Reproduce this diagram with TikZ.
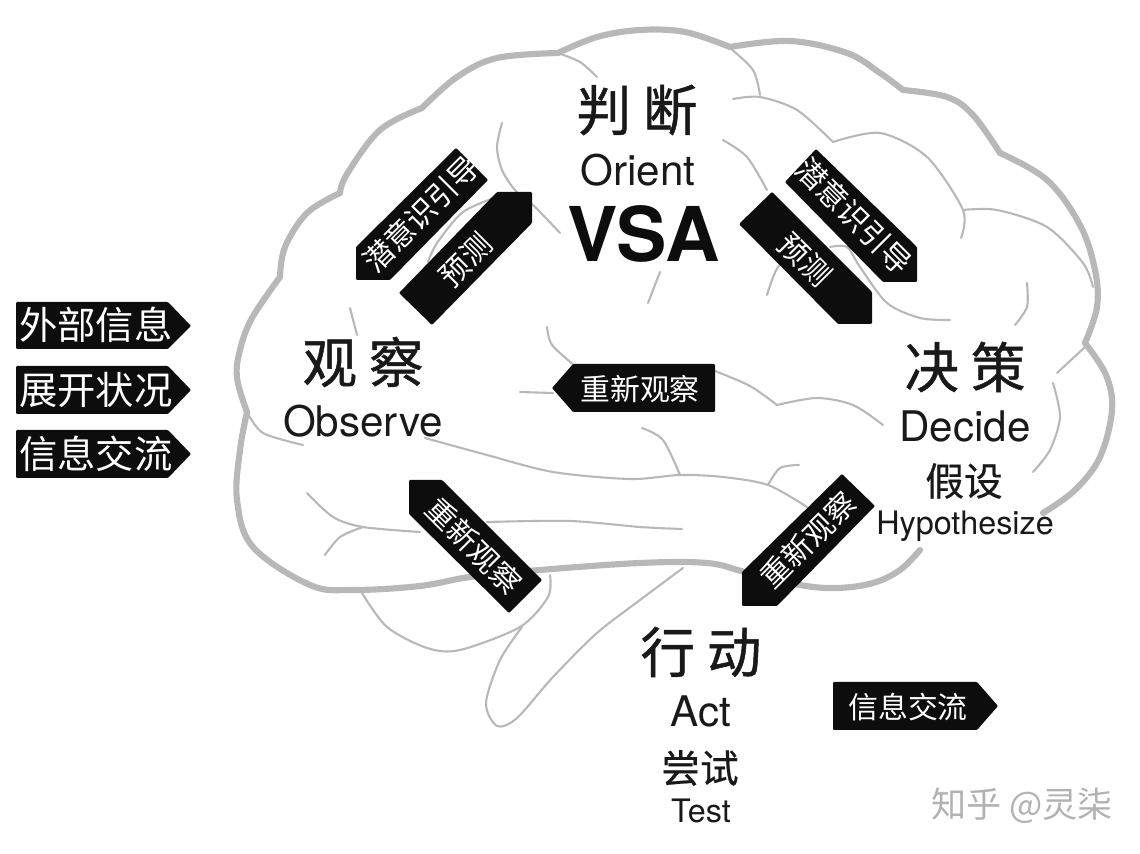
\documentclass[tikz,border=0pt]{standalone}
\usepackage{fontspec}
\setmainfont{TeX Gyre Heros}
\newfontfamily\cjk{Noto Sans CJK SC}
\newfontfamily\cjkhead[LetterSpace=22,FakeBold=0.9]{Noto Sans CJK SC}
\newfontfamily\cjkmid[FakeBold=0.5]{Noto Sans CJK SC}
\definecolor{brainline}{gray}{0.72}
\definecolor{tagblack}{gray}{0.05}
\tikzset{
    thickline/.style={draw=brainline, line width=3.5pt, line cap=round, line join=round},
    thinline/.style={draw=brainline, line width=1.2pt, line cap=round},
    tagshape/.style={fill=tagblack, rounded corners=0.6pt},
    tagtext/.style={text=white, inner sep=0pt, font=\cjk\fontsize{17}{17}\selectfont},
    sidetext/.style={text=white, inner sep=0pt, font=\cjk\fontsize{21.8}{21.8}\selectfont},
    headtext/.style={inner sep=0pt, text=black!90, font=\cjkhead\fontsize{31}{31}\selectfont},
    subtext/.style={inner sep=0pt, text=black!90, font=\cjkmid\fontsize{22}{22}\selectfont},
    englarge/.style={inner sep=0pt, text=black!90, font=\fontsize{24}{24}\selectfont},
    engsmall/.style={inner sep=0pt, text=black!90, font=\fontsize{18.4}{18.4}\selectfont},
}
\begin{document}
\begin{tikzpicture}[x=0.02cm, y=-0.02cm]
    \useasboundingbox (0,0) rectangle (1140,854);

    % Brain outline
    \draw[thickline] plot[smooth, tension=0.6] coordinates {(247,412) (237,378) (240,350) (252,318) (280,277)};
    \draw[thickline] plot[smooth, tension=0.6] coordinates {(280,277) (285,247) (307,213) (340,193)};
    \draw[thickline] plot[smooth, tension=0.6] coordinates {(340,193) (347,174) (380,130) (422,108)};
    \draw[thickline] plot[smooth, tension=0.6] coordinates {(422,108) (457,77) (497,58) (558,53)};
    \draw[thickline] plot[smooth, tension=0.6] coordinates {(558,53) (597,37) (640,30) (685,32) (730,47)};
    \draw[thickline] plot[smooth, tension=0.6] coordinates {(730,47) (790,41) (847,53) (880,73) (903,90)};
    \draw[thickline] plot[smooth, tension=0.6] coordinates {(903,90) (947,97) (973,115) (1000,153)};
    \draw[thickline] plot[smooth, tension=0.6] coordinates {(1000,153) (1047,180) (1080,225) (1095,270) (1097,307) (1085,343)};
    \draw[thickline] plot[smooth, tension=0.6] coordinates {(1085,343) (1106,375) (1112,410) (1100,457) (1075,490) (1043,513)};
    \draw[thickline] plot[smooth, tension=0.6] coordinates {(920,550) (900,570) (873,583) (837,588) (800,585) (745,572) (707,563) (640,563) (540,570) (470,577) (420,586) (353,590) (310,585) (253,547) (237,500) (240,450) (247,412)};

    % Folds, left and middle
    \draw[thinline] plot[smooth] coordinates {(247,412) (263,433) (303,445)};
    \draw[thinline] plot[smooth] coordinates {(558,53) (580,62) (597,77)};
    \draw[thinline] plot[smooth] coordinates {(502,123) (497,147) (502,170) (515,190) (535,207) (560,233)};
    \draw[thinline] plot[smooth] coordinates {(497,197) (463,212) (437,243) (428,262)};
    \draw[thinline] plot[smooth] coordinates {(350,308) (357,335)};
    \draw[thinline] plot[smooth] coordinates {(660,272) (648,303)};
    \draw[thinline] plot[smooth] coordinates {(547,327) (552,345) (575,366)};
    \draw[thinline] plot[smooth] coordinates {(715,371) (750,386) (777,405)};
    \draw[thinline] plot[smooth] coordinates {(777,405) (817,398) (853,405) (883,425)};
    \draw[thinline] (520,392) -- (553,393);
    \draw[thinline] plot[smooth] coordinates {(642,428) (663,440) (680,475)};
    \draw[thinline] plot[smooth] coordinates {(425,438) (487,455) (553,472) (630,479) (680,475) (723,477) (768,485) (807,507)};
    \draw[thinline] plot[smooth] coordinates {(768,485) (780,468) (799,465)};
    \draw[thinline] plot[smooth] coordinates {(307,493) (333,517) (363,527) (420,532)};
    \draw[thinline] plot[smooth] coordinates {(325,555) (340,537) (363,527)};
    \draw[thinline] plot[smooth] coordinates {(487,522) (570,521) (640,527) (682,529)};

    % Temporal lobe and brain stem
    \draw[thinline] plot[smooth] coordinates {(362,593) (387,627) (427,648) (460,650) (520,627) (548,597) (550,575)};
    \draw[thinline] plot[smooth] coordinates {(522,627) (500,660) (486,703) (497,726) (517,718) (553,677) (597,633) (640,600) (683,568)};

    % Folds, right
    \draw[thinline] plot[smooth] coordinates {(730,48) (753,70) (760,95)};
    \draw[thinline] plot[smooth] coordinates {(733,99) (760,97) (797,110) (833,142)};
    \draw[thinline] plot[smooth] coordinates {(833,142) (880,133) (927,157) (963,210) (961,238)};
    \draw[thinline] plot[smooth] coordinates {(963,210) (997,210) (1047,227) (1083,263) (1093,287)};
    \draw[thinline] plot[smooth] coordinates {(723,140) (747,157) (767,190)};
    \draw[thinline] plot[smooth] coordinates {(767,295) (778,267) (800,250)};
    \draw[thinline] plot[smooth] coordinates {(830,247) (847,247) (860,267) (887,303) (920,318) (950,320)};
    \draw[thinline] plot[smooth] coordinates {(1027,283) (1027,307) (1015,325)};
    \draw[thinline] plot[smooth] coordinates {(1085,347) (1057,373)};
    \draw[thinline] plot[smooth] coordinates {(1053,383) (1060,417) (1050,450) (1033,472)};

    % Tags on the left
    \fill[tagshape] (16,302) -- (168,302) -- (191,326) -- (168,349) -- (16,349) -- cycle;
    \node[sidetext] (outerinfo) at (96,325) {外部信息};
    \fill[tagshape] (16,366) -- (168,366) -- (191,390) -- (168,414) -- (16,414) -- cycle;
    \node[sidetext] (situation) at (96,390) {展开状况};
    \fill[tagshape] (16,430) -- (168,430) -- (191,454) -- (168,478) -- (16,478) -- cycle;
    \node[sidetext] (exchangeleft) at (96,454) {信息交流};

    % Tags around the loop
    \fill[tagshape] (456,148) -- (488,180) -- (390,280) -- (356,280) -- (356,247) -- cycle;
    \node[tagtext, rotate=45] (implicitleft) at (421,214) {潜意识引导};
    \fill[tagshape] (532,192) -- (532,223) -- (432,325) -- (399,293) -- (497,192) -- cycle;
    \node[tagtext, rotate=45] (predictleft) at (466,260) {预测};
    \fill[tagshape] (816,149) -- (917,247) -- (917,282) -- (883,282) -- (785,182) -- cycle;
    \node[tagtext, rotate=-45] (implicitright) at (854,216) {潜意识引导};
    \fill[tagshape] (772,192) -- (872,292) -- (872,324) -- (838,324) -- (739,224) -- cycle;
    \node[tagtext, rotate=-45] (predictright) at (805,260) {预测};
    \fill[tagshape] (552,388) -- (573,364) -- (715,364) -- (715,412) -- (573,412) -- cycle;
    \node[tagtext] (reobservemid) at (640,389) {重新观察};
    \fill[tagshape] (409,480) -- (442,480) -- (542,580) -- (509,613) -- (409,514) -- cycle;
    \node[tagtext, rotate=-45] (reobserveleft) at (474,546) {重新观察};
    \fill[tagshape] (842,474) -- (875,506) -- (777,606) -- (742,606) -- (742,572) -- cycle;
    \node[tagtext, rotate=45] (reobserveright) at (808,540) {重新观察};
    \fill[tagshape] (833,682) -- (977,682) -- (998,706) -- (977,730) -- (833,730) -- cycle;
    \node[tagtext] (exchangeright) at (908,707) {信息交流};

    % Orient
    \node[headtext] (orient) at (637,110) {判断};
    \node[englarge] (orienten) at (638,170) {Orient};
    \node[inner sep=0pt, text=black!95, font=\bfseries\fontsize{43}{43}\selectfont] (vsa) at (644,234) {VSA};

    % Observe
    \node[headtext] (observe) at (363,362) {观察};
    \node[englarge] (observeen) at (363,421) {Observe};

    % Decide
    \node[headtext] (decide) at (965,367) {决策};
    \node[englarge] (decideen) at (965,426) {Decide};
    \node[subtext] (hypo) at (964,481) {假设};
    \node[engsmall] (hypoen) at (965,526) {Hypothesize};

    % Act
    \node[headtext] (act) at (701,652) {行动};
    \node[englarge] (acten) at (701,711) {Act};
    \node[subtext] (test) at (700,768) {尝试};
    \node[engsmall] (testen) at (701,811) {Test};

    % Watermark
    \node[inner sep=0pt, text=black!30, font=\cjk\fontsize{20}{20}\selectfont] (mark) at (1022,806) {知乎 @灵柒};
\end{tikzpicture}
\end{document}
